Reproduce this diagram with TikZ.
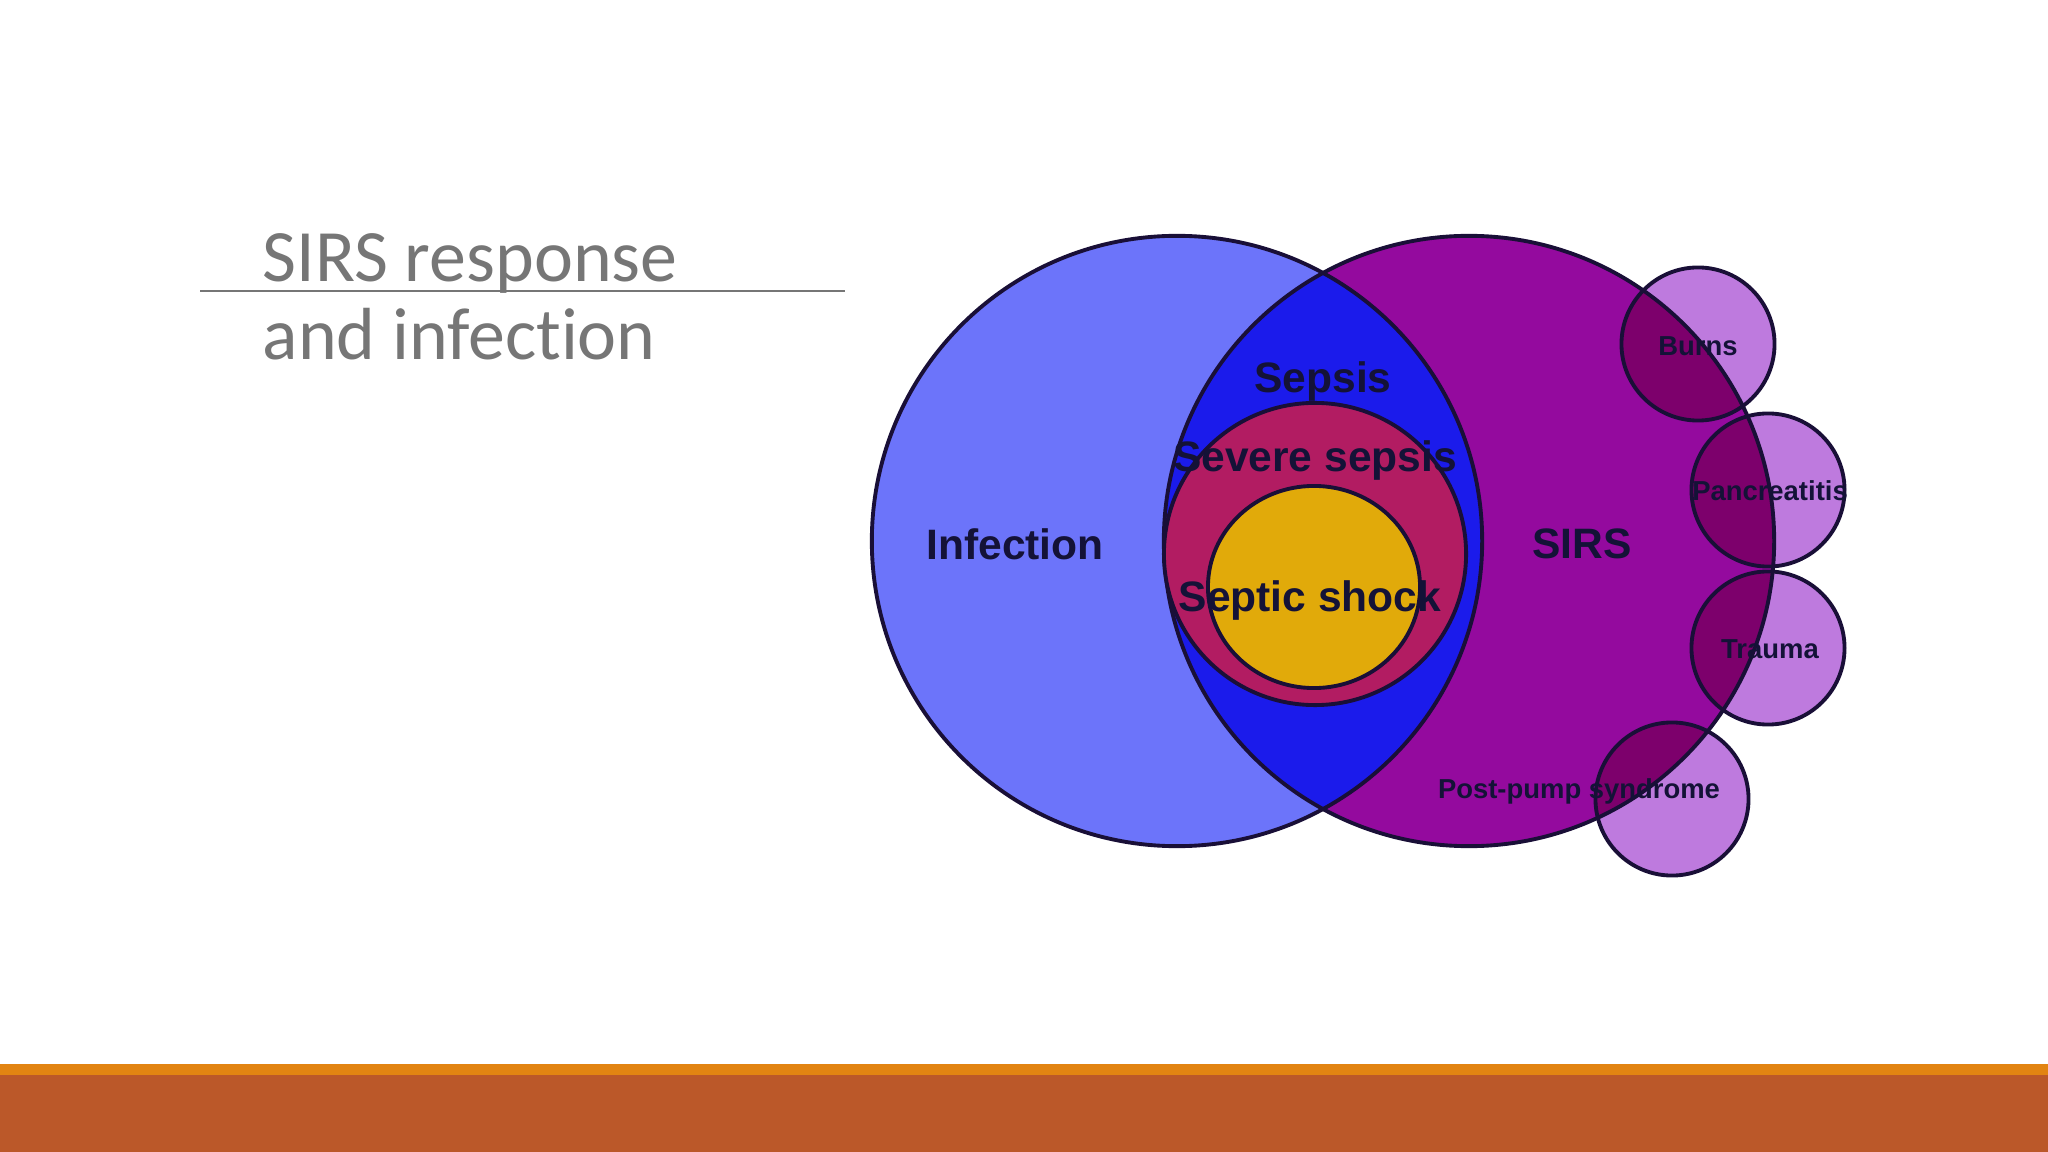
\documentclass[tikz,border=0pt]{standalone}
\usepackage{fontspec}
\setmainfont{Liberation Sans}
\newfontfamily\titlefont[Ligatures=NoCommon]{Carlito}
\definecolor{infblue}{RGB}{108,116,250}
\definecolor{lensblue}{RGB}{27,27,235}
\definecolor{sirspurple}{RGB}{148,10,158}
\definecolor{severered}{RGB}{178,28,98}
\definecolor{shockgold}{RGB}{225,170,10}
\definecolor{smallpurple}{RGB}{190,122,222}
\definecolor{smalldark}{RGB}{125,0,108}
\definecolor{outline}{RGB}{25,15,55}
\definecolor{labelcol}{RGB}{20,18,55}
\definecolor{titlegray}{RGB}{118,118,118}
\definecolor{barorange}{RGB}{226,132,18}
\definecolor{barbrown}{RGB}{187,88,41}
\tikzset{
  ring/.style={draw=outline, line width=1.1pt},
  biglabel/.style={font=\bfseries\fontsize{12.1pt}{14pt}\selectfont, text=labelcol, inner sep=0pt},
  smalllabel/.style={font=\bfseries\fontsize{7.8pt}{9pt}\selectfont, text=labelcol, inner sep=0pt},
  titletext/.style={font=\titlefont\fontsize{21pt}{26pt}\selectfont, text=titlegray, inner sep=0pt, anchor=base west}
}
\begin{document}
\begin{tikzpicture}[x=0.01cm,y=-0.01cm]
\useasboundingbox (0,0) rectangle (2048,1152);
\fill[white] (0,0) rectangle (2048,1152);
% bottom bar
\fill[barorange] (0,1064) rectangle (2048,1076);
\fill[barbrown] (0,1075) rectangle (2048,1152);
% title
\node[titletext] (t1) at (262,282) {SIRS response};
\node[titletext] (t2) at (262,360) {and infection};
\draw[titlegray, line width=0.5pt] (200,291) -- (845,291);
% coordinates
\coordinate (inf) at (1177,541);
\coordinate (sirs) at (1469,541);
\coordinate (burns) at (1698,344);
\coordinate (panc) at (1768,490);
\coordinate (trau) at (1768,648);
\coordinate (post) at (1672,799);
\coordinate (sev) at (1315,554);
\coordinate (shock) at (1314,587);
% big circles
\fill[infblue] (inf) circle (3.05cm);
\fill[sirspurple] (sirs) circle (3.05cm);
\begin{scope}
  \clip (inf) circle (3.05cm);
  \fill[lensblue] (sirs) circle (3.05cm);
\end{scope}
\draw[ring] (inf) circle (3.05cm);
\draw[ring] (sirs) circle (3.05cm);
% small circles
\foreach \c in {burns,panc,trau,post}{
  \fill[smallpurple] (\c) circle (0.765cm);
  \begin{scope}
    \clip (sirs) circle (3.05cm);
    \fill[smalldark] (\c) circle (0.765cm);
  \end{scope}
}
\begin{scope}
  \clip (burns) circle (0.765cm) (panc) circle (0.765cm) (trau) circle (0.765cm) (post) circle (0.765cm);
  \draw[ring] (sirs) circle (3.05cm);
\end{scope}
\foreach \c in {burns,panc,trau,post}{
  \draw[ring] (\c) circle (0.765cm);
}
% nested sepsis circles
\fill[severered] (sev) circle (1.51cm);
\draw[ring] (sev) circle (1.51cm);
\fill[shockgold] (shock) ellipse [x radius=1.06cm, y radius=1.01cm];
\draw[ring] (shock) ellipse [x radius=1.06cm, y radius=1.01cm];
% labels
\node[biglabel] (linf) at (1015,544) {Infection};
\node[biglabel] (lsirs) at (1582,544) {SIRS};
\node[biglabel] (lsep) at (1323,381) {Sepsis};
\node[biglabel] (lsev) at (1315,460) {Severe sepsis};
\node[biglabel] (lsho) at (1310,601) {Septic shock};
\node[smalllabel] (lbur) at (1698,346) {Burns};
\node[smalllabel] (lpan) at (1770,491) {Pancreatitis};
\node[smalllabel] (ltra) at (1770,649) {Trauma};
\node[smalllabel] (lpos) at (1579,791) {Post-pump syndrome};
\end{tikzpicture}
\end{document}
